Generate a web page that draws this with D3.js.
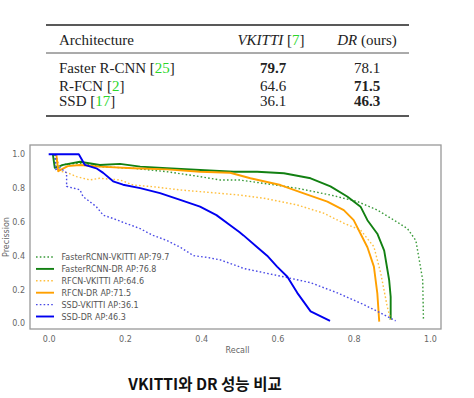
<!DOCTYPE html>
<html>
<head>
<meta charset="utf-8">
<script src="https://cdn.jsdelivr.net/npm/d3@7"></script>
<style>
  html, body { margin: 0; padding: 0; background: #fff; }
  svg { display: block; }
</style>
</head>
<body>
<div id="chart"></div>
<script>
// table contents
const tableHeader = ['Architecture', 'VKITTI', 'DR'];
const tableRows = [
  { name: 'Faster R-CNN', ref: '25', vkitti: '79.7', dr: '78.1', best: 'vkitti' },
  { name: 'R-FCN', ref: '2', vkitti: '64.6', dr: '71.5', best: 'dr' },
  { name: 'SSD', ref: '17', vkitti: '36.1', dr: '46.3', best: 'dr' }
];

// precision / recall curves, [recall, precision]
const fasterVkitti = [[0.015, 1.0], [0.02, 0.92], [0.04, 0.94], [0.082, 0.947], [0.134, 0.927], [0.222, 0.917], [0.31, 0.897], [0.397, 0.868], [0.45, 0.848], [0.5, 0.848], [0.564, 0.828], [0.652, 0.799], [0.739, 0.759], [0.81, 0.72], [0.862, 0.67], [0.906, 0.61], [0.941, 0.56], [0.963, 0.49], [0.972, 0.375], [0.981, 0.256], [0.983, 0.02]];
const fasterDR = [[0.011, 1.0], [0.016, 0.92], [0.038, 0.937], [0.082, 0.956], [0.134, 0.937], [0.187, 0.943], [0.24, 0.927], [0.31, 0.917], [0.397, 0.907], [0.485, 0.897], [0.547, 0.897], [0.617, 0.888], [0.687, 0.858], [0.739, 0.81], [0.783, 0.75], [0.818, 0.69], [0.836, 0.61], [0.862, 0.53], [0.88, 0.43], [0.893, 0.256], [0.897, 0.157], [0.897, 0.02]];
const rfcnVkitti = [[0.02, 1.0], [0.03, 0.9], [0.05, 0.89], [0.073, 0.868], [0.108, 0.848], [0.134, 0.858], [0.187, 0.848], [0.222, 0.818], [0.274, 0.808], [0.345, 0.789], [0.397, 0.779], [0.5, 0.759], [0.564, 0.74], [0.652, 0.70], [0.722, 0.651], [0.774, 0.592], [0.818, 0.552], [0.853, 0.453], [0.871, 0.296], [0.888, 0.098], [0.897, 0.02]];
const rfcnDR = [[0.02, 1.0], [0.025, 0.9], [0.05, 0.93], [0.082, 0.937], [0.134, 0.927], [0.222, 0.917], [0.31, 0.911], [0.397, 0.897], [0.476, 0.891], [0.529, 0.858], [0.608, 0.818], [0.669, 0.769], [0.731, 0.72], [0.774, 0.67], [0.80, 0.61], [0.818, 0.53], [0.836, 0.45], [0.853, 0.335], [0.862, 0.177], [0.867, 0.01]];
const ssdVkitti = [[0.018, 1.0], [0.018, 0.91], [0.03, 0.92], [0.047, 0.89], [0.047, 0.81], [0.082, 0.79], [0.09, 0.75], [0.125, 0.69], [0.143, 0.64], [0.169, 0.62], [0.204, 0.59], [0.24, 0.56], [0.274, 0.52], [0.31, 0.49], [0.345, 0.45], [0.38, 0.40], [0.415, 0.39], [0.45, 0.375], [0.5, 0.335], [0.51, 0.325], [0.563, 0.30], [0.616, 0.275], [0.687, 0.24], [0.757, 0.18], [0.827, 0.11], [0.871, 0.06], [0.91, 0.014]];
const ssdDR = [[0.0, 1.0], [0.079, 1.0], [0.095, 0.937], [0.125, 0.917], [0.143, 0.89], [0.169, 0.84], [0.195, 0.82], [0.24, 0.80], [0.292, 0.77], [0.345, 0.73], [0.397, 0.69], [0.44, 0.64], [0.476, 0.58], [0.50, 0.54], [0.511, 0.52], [0.547, 0.45], [0.573, 0.40], [0.599, 0.335], [0.626, 0.275], [0.652, 0.18], [0.687, 0.07], [0.738, 0.014]];

const seriesNames = ['FasterRCNN-VKITTI AP:79.7', 'FasterRCNN-DR AP:76.8', 'RFCN-VKITTI AP:64.6', 'RFCN-DR AP:71.5', 'SSD-VKITTI AP:36.1', 'SSD-DR AP:46.3'];
const xTicks = [0.0, 0.2, 0.4, 0.6, 0.8, 1.0];
const yTicks = [0.0, 0.2, 0.4, 0.6, 0.8, 1.0];
const caption = 'VKITTI와 DR 성능 비교';

const series = [
  { name: seriesNames[0], data: fasterVkitti, color: '#3a9a3a', dash: '1.6,2.2' },
  { name: seriesNames[1], data: fasterDR, color: '#128012', dash: null },
  { name: seriesNames[2], data: rfcnVkitti, color: '#ffc040', dash: '1.6,2.2' },
  { name: seriesNames[3], data: rfcnDR, color: '#ffa000', dash: null },
  { name: seriesNames[4], data: ssdVkitti, color: '#4a4ae6', dash: '1.6,2.2' },
  { name: seriesNames[5], data: ssdDR, color: '#0000f0', dash: null }
];

const W = 474, H = 398;
const svg = d3.select('#chart').append('svg').attr('width', W).attr('height', H);

// ---- table ----
const serif = '"Liberation Serif", "DejaVu Serif", serif';
const tl = 46, tr = 409;
const colName = 59, colV = 271, colD = 367;
const tbl = svg.append('g').attr('font-family', serif).attr('font-size', 15).attr('fill', '#222');
tbl.append('line').attr('x1', tl).attr('x2', tr).attr('y1', 25).attr('y2', 25).attr('stroke', '#222').attr('stroke-width', 1.6);
tbl.append('line').attr('x1', tl).attr('x2', tr).attr('y1', 53).attr('y2', 53).attr('stroke', '#444').attr('stroke-width', 0.9);
tbl.append('line').attr('x1', tl).attr('x2', tr).attr('y1', 116).attr('y2', 116).attr('stroke', '#222').attr('stroke-width', 1.6);

tbl.append('text').attr('x', colName).attr('y', 45).text(tableHeader[0]);
const h2 = tbl.append('text').attr('x', colV).attr('y', 45).attr('text-anchor', 'middle');
h2.append('tspan').attr('font-style', 'italic').text(tableHeader[1] + ' ');
h2.append('tspan').text('[');
h2.append('tspan').attr('fill', '#2bd62b').text('7');
h2.append('tspan').text(']');
const h3 = tbl.append('text').attr('x', colD).attr('y', 45).attr('text-anchor', 'middle');
h3.append('tspan').attr('font-style', 'italic').text(tableHeader[2]);
h3.append('tspan').text(' (ours)');

const rowY = [73, 91, 105.5];
tableRows.forEach((r, i) => {
  const t = tbl.append('text').attr('x', colName).attr('y', rowY[i]);
  t.append('tspan').text(r.name + ' [');
  t.append('tspan').attr('fill', '#2bd62b').text(r.ref);
  t.append('tspan').text(']');
  tbl.append('text').attr('x', colV + 2).attr('y', rowY[i]).attr('text-anchor', 'middle')
    .attr('font-weight', r.best === 'vkitti' ? 700 : 400).text(r.vkitti);
  tbl.append('text').attr('x', colD).attr('y', rowY[i]).attr('text-anchor', 'middle')
    .attr('font-weight', r.best === 'dr' ? 700 : 400).text(r.dr);
});

// ---- PR plot ----
const px0 = 30, px1 = 441, py0 = 145, py1 = 329;
const x = d3.scaleLinear().domain([-0.049, 1.029]).range([px0, px1]);
const y = d3.scaleLinear().domain([-0.034, 1.055]).range([py1, py0]);
const sans = '"DejaVu Sans", "Liberation Sans", sans-serif';

const plot = svg.append('g');
plot.append('rect').attr('x', px0).attr('y', py0).attr('width', px1 - px0).attr('height', py1 - py0)
  .attr('fill', '#fff');

const xAxis = d3.axisBottom(x).tickValues(xTicks).tickFormat(d3.format('.1f')).tickSize(0).tickPadding(7);
const yAxis = d3.axisLeft(y).tickValues(yTicks).tickFormat(d3.format('.1f')).tickSize(0).tickPadding(5);
plot.append('g').attr('transform', `translate(0,${py1})`).call(xAxis)
  .call(g => g.select('.domain').remove())
  .selectAll('text').attr('font-family', sans).attr('font-size', 8).attr('fill', '#666');
plot.append('g').attr('transform', `translate(${px0},0)`).call(yAxis)
  .call(g => g.select('.domain').remove())
  .selectAll('text').attr('font-family', sans).attr('font-size', 8).attr('fill', '#666');

const line = d3.line().x(d => x(d[0])).y(d => y(d[1]));
plot.append('g').selectAll('path').data(series).join('path')
  .attr('d', d => line(d.data))
  .attr('fill', 'none')
  .attr('stroke', d => d.color)
  .attr('stroke-width', d => d.dash ? 1.4 : 1.9)
  .attr('stroke-dasharray', d => d.dash)
  .attr('stroke-linejoin', 'round');

plot.append('rect').attr('x', px0).attr('y', py0).attr('width', px1 - px0).attr('height', py1 - py0)
  .attr('fill', 'none').attr('stroke', '#999').attr('stroke-width', 1.3);

plot.append('text').attr('x', (px0 + px1) / 2 + 2).attr('y', 353).attr('text-anchor', 'middle')
  .attr('font-family', sans).attr('font-size', 8).attr('fill', '#666').text('Recall');
plot.append('text').attr('transform', `translate(9,${(py0 + py1) / 2}) rotate(-90)`).attr('text-anchor', 'middle')
  .attr('font-family', sans).attr('font-size', 8).attr('fill', '#666').text('Precission');

// legend
const lg = plot.append('g').attr('font-family', sans).attr('font-size', 8).attr('fill', '#555');
series.forEach((s, i) => {
  const ly = 257 + i * 11.9;
  lg.append('line').attr('x1', 36).attr('x2', 54).attr('y1', ly).attr('y2', ly)
    .attr('stroke', s.color).attr('stroke-width', s.dash ? 1.4 : 1.9).attr('stroke-dasharray', s.dash);
  lg.append('text').attr('x', 61.5).attr('y', ly + 3).text(s.name);
});

// caption
svg.append('text').attr('x', 205).attr('y', 390).attr('text-anchor', 'middle')
  .attr('font-family', '"Noto Sans CJK KR", "Noto Sans", sans-serif').attr('font-weight', 700)
  .attr('font-size', 15.5).attr('fill', '#111').text(caption);
</script>
</body>
</html>
